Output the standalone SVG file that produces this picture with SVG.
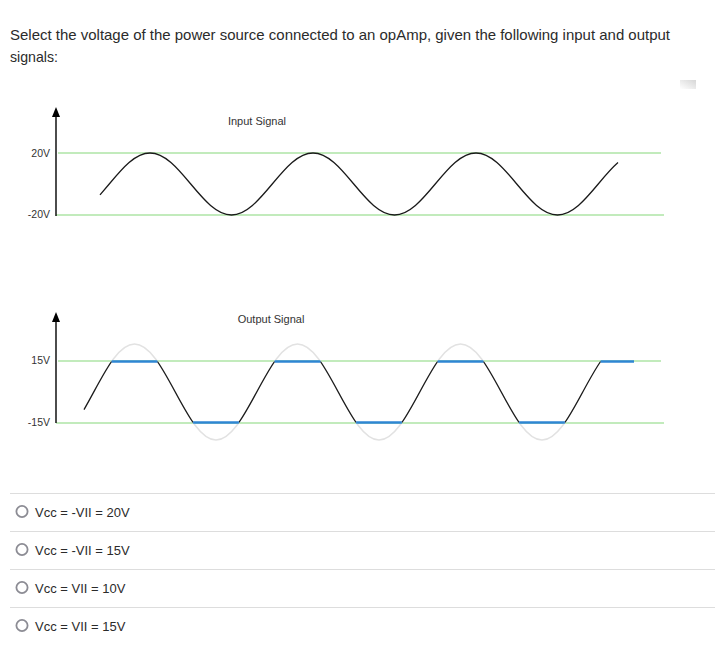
<svg xmlns="http://www.w3.org/2000/svg" width="728" height="658" viewBox="0 0 728 658">
<defs>
<style>
.q{font-family:"Liberation Sans",Arial,sans-serif;fill:#2b2b2b}
.lab{font-family:"Liberation Sans",Arial,sans-serif;font-size:10.5px;fill:#333}
.ttl{font-family:"Liberation Sans",Arial,sans-serif;font-size:11px;fill:#333}
.grn{stroke:#aee4a6;stroke-width:1.6;fill:none}
.ax{stroke:#000;stroke-width:1.4;fill:none}
.sig{stroke:#1a1a1a;stroke-width:1.3;fill:none}
.ghost{stroke:#e2e2e2;stroke-width:1.5;fill:none}
.clip{stroke:#2f86d3;stroke-width:2.4;fill:none}
.sep{stroke:#dddddd;stroke-width:1}
.radio{fill:#fff;stroke:#8c8c94;stroke-width:1.8}
.opt{font-family:"Liberation Sans",Arial,sans-serif;font-size:13px;fill:#2b2b2b}
</style>
<linearGradient id="fade" x1="0" y1="1" x2="1" y2="0">
<stop offset="0" stop-color="#ffffff"/>
<stop offset="1" stop-color="#d6d6d6"/>
</linearGradient>
</defs>
<rect width="728" height="658" fill="#fff"/>

<g id="question">
<text class="q" x="10" y="40" font-size="15" textLength="660" lengthAdjust="spacingAndGlyphs">Select the voltage of the power source connected to an opAmp, given the following input and output</text>
<text class="q" x="10" y="62" font-size="15" textLength="48" lengthAdjust="spacingAndGlyphs">signals:</text>
<rect x="680" y="80" width="16" height="9" fill="url(#fade)"/>
</g>

<g id="input-chart">
<line class="grn" x1="58" y1="153" x2="661" y2="153"/>
<line class="grn" x1="56" y1="215" x2="664" y2="215"/>
<line class="ax" x1="56" y1="116" x2="56" y2="216"/>
<polygon points="56,107 52,117 60,117" fill="#000"/>
<text class="lab" x="50" y="157" text-anchor="end">20V</text>
<text class="lab" x="50" y="218" text-anchor="end">-20V</text>
<text class="ttl" x="257" y="125" text-anchor="middle">Input Signal</text>
<path class="sig" d="M100 194.8 L109.25 184
c13.29 -15.88 26 -31 40.75 -31 c14.75 0 27.46 15.12 40.75 31 c13.29 15.88 26 31 40.75 31 c14.75 0 27.46 -15.12 40.75 -31
c13.29 -15.88 26 -31 40.75 -31 c14.75 0 27.46 15.12 40.75 31 c13.29 15.88 26 31 40.75 31 c14.75 0 27.46 -15.12 40.75 -31
c13.29 -15.88 26 -31 40.75 -31 c14.75 0 27.46 15.12 40.75 31 c13.29 15.88 26 31 40.75 31 c14.75 0 27.46 -15.12 40.75 -31
c6.58 -7.87 13.17 -15.7 19.75 -21.4"/>
</g>

<g id="output-chart">
<line class="grn" x1="58" y1="361" x2="661" y2="361"/>
<line class="grn" x1="56" y1="423" x2="664" y2="423"/>
<line class="ax" x1="56" y1="320" x2="56" y2="423"/>
<polygon points="56,312 52,322 60,322" fill="#000"/>
<text class="lab" x="50" y="364" text-anchor="end">15V</text>
<text class="lab" x="50" y="426" text-anchor="end">-15V</text>
<text class="ttl" x="271" y="323" text-anchor="middle">Output Signal</text>
<path class="ghost" d="M93.75 392
c13.29 -24.59 26 -48 40.75 -48 c14.75 0 27.46 23.41 40.75 48 c13.29 24.59 26 48 40.75 48 c14.75 0 27.46 -23.41 40.75 -48
c13.29 -24.59 26 -48 40.75 -48 c14.75 0 27.46 23.41 40.75 48 c13.29 24.59 26 48 40.75 48 c14.75 0 27.46 -23.41 40.75 -48
c13.29 -24.59 26 -48 40.75 -48 c14.75 0 27.46 23.41 40.75 48 c13.29 24.59 26 48 40.75 48 c14.75 0 27.46 -23.41 40.75 -48"/>
<path class="sig" d="M84 409.6 C93.2 393.77 102.4 374.65 111.6 361.5
M157.4 361.5 c11.9 17 23.8 44 35.7 61
M238.9 422.5 c11.9 -17 23.8 -44 35.7 -61
M320.4 361.5 c11.9 17 23.8 44 35.7 61
M401.9 422.5 c11.9 -17 23.8 -44 35.7 -61
M483.4 361.5 c11.9 17 23.8 44 35.7 61
M564.9 422.5 c11.9 -17 23.8 -44 35.7 -61"/>
<path class="clip" d="M111.6 361.5 H157.4 M193.1 422.5 H238.9 M274.6 361.5 H320.4 M356.1 422.5 H401.9 M437.6 361.5 H483.4 M519.1 422.5 H564.9 M600.6 361.5 H634"/>
</g>

<g id="options">
<line class="sep" x1="10" y1="493.5" x2="715" y2="493.5"/>
<line class="sep" x1="10" y1="531.5" x2="715" y2="531.5"/>
<line class="sep" x1="10" y1="569.5" x2="715" y2="569.5"/>
<line class="sep" x1="10" y1="607.5" x2="715" y2="607.5"/>
<g id="opt1"><circle class="radio" cx="22" cy="511.5" r="5.6"/><text class="opt" x="35" y="517">Vcc = -VII = 20V</text></g>
<g id="opt2"><circle class="radio" cx="22" cy="549.5" r="5.6"/><text class="opt" x="35" y="555">Vcc = -VII = 15V</text></g>
<g id="opt3"><circle class="radio" cx="22" cy="587.5" r="5.6"/><text class="opt" x="35" y="593">Vcc = VII = 10V</text></g>
<g id="opt4"><circle class="radio" cx="22" cy="625.5" r="5.6"/><text class="opt" x="35" y="631">Vcc = VII = 15V</text></g>
</g>
</svg>
